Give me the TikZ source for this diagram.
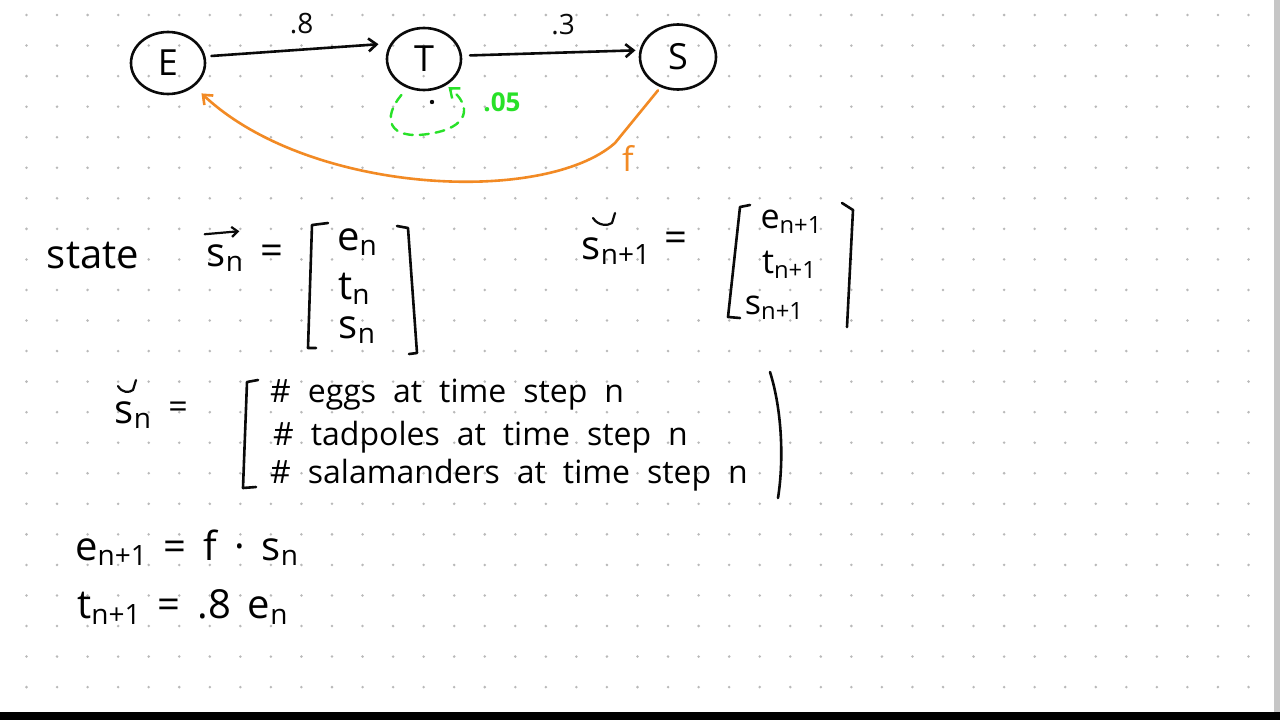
\documentclass[tikz,border=0pt]{standalone}
\usepackage{fontspec}
\setmainfont{Open Sans}
\usepackage{graphicx}
\usetikzlibrary{arrows.meta, shapes.geometric, calc}
\definecolor{pen}{RGB}{10,10,10}
\definecolor{penorange}{RGB}{242,138,36}
\definecolor{pengreen}{RGB}{40,225,40}
\definecolor{griddot}{RGB}{185,185,185}
\newcommand{\sub}[1]{\raisebox{-0.25ex}{\scalebox{0.7}{#1}}}

\begin{document}
\begin{tikzpicture}[x=1pt, y=-1pt, line cap=round, line join=round,
    stage/.style={draw=pen, ellipse, line width=2.6pt, minimum width=74pt, minimum height=62pt, inner sep=0pt, font=\fontsize{36}{36}\selectfont},
    arrow/.style={-{Straight Barb[length=8pt, width=13pt]}, line width=2.6pt, pen},
    ink/.style={line width=2.6pt, pen},
    big/.style={inner sep=0pt, font=\fontsize{40}{44}\selectfont},
    mid/.style={inner sep=0pt, font=\fontsize{34}{36}\selectfont},
    small/.style={inner sep=0pt, font=\fontsize{28}{30}\selectfont},
    wide/.style={inner sep=0pt, anchor=west, font=\fontsize{32}{34}\selectfont, execute at begin node={\spaceskip=17pt\relax}},
    rule/.style={big, anchor=west, execute at begin node={\spaceskip=17pt\relax}}]
  % paper
  \useasboundingbox (0,0) rectangle (1280,720);
  \fill[white] (0,0) rectangle (1280,720);
  \foreach \i in {0,...,40}
    \foreach \j in {0,...,22}
      \fill[griddot] (26.5+30.55*\i, 15+30.55*\j) circle (1.4);
  \fill[gray!45] (1274,0) rectangle (1280,712);
  \fill[black] (0,712) rectangle (1280,720);

  % life cycle
  \node[stage] (egg) at (168,63) {E};
  \node[stage] (tadpole) at (424,59) {T};
  \node[stage, minimum width=76pt, minimum height=65pt] (salamander) at (678,57) {S};

  \draw[arrow, shorten <=6pt, shorten >=12pt] (egg.10) -- node[small, above=14pt, pos=0.52] (hatch) {.8} (tadpole.155);
  \draw[arrow, shorten <=8pt, shorten >=4pt] (tadpole.5) -- node[small, above=16pt, pos=0.57] (grow) {.3} (salamander.170);

  \coordinate (kink) at (615,143);
  \draw[penorange, line width=2.6pt, -{Straight Barb[length=8pt, width=13pt]}, shorten <=4pt, shorten >=10pt] (salamander.240) -- (kink) .. controls (545,205) and (310,195) .. (egg.-42);
  \node[penorange, inner sep=0pt, font=\fontsize{34}{34}\selectfont] (fert) at (628,158) {f};

  \draw[pengreen, line width=2.4pt, dash pattern=on 9pt off 7pt, -{Straight Barb[length=8pt, width=13pt]}, shorten <=9pt, shorten >=3pt] (tadpole.240) .. controls (382,118) and (388,140) .. (428,134) .. controls (470,128) and (472,106) .. (tadpole.-50);
  \fill[pen] (432,102) circle (2.2);
  \node[pengreen, inner sep=0pt, font=\fontsize{26}{26}\selectfont\bfseries] (survive) at (502,102) {.05};

  % state vector
  \node[big] (statelbl) at (93,256) {state};
  \node[big] (sn) at (225,258) {s\sub{n}};
  \draw[arrow, line width=2.2pt, -{Straight Barb[length=6pt, width=10pt]}] ($(sn.north west)+(-2,-10)$) -- ($(sn.north east)+(-4,-13)$);
  \node[big] (eq1) at (272,255) {=};
  \draw[ink] (328,223) -- (312,225) -- (308,348) -- (316,348);
  \draw[ink] (397,226) -- (408,228) -- (417,353) -- (409,354);
  \node[big] (en) at (357,242) {e\sub{n}};
  \node[big] (tn) at (354,289) {t\sub{n}};
  \node[big] (snow) at (357,330) {s\sub{n}};

  % next state
  \node[big] (snext) at (616,251) {s\sub{n+1}};
  \draw[ink, line width=2.2pt] (593,218) .. controls (598,226) and (608,226) .. (612,223) -- (615,213);
  \node[big] (eq2) at (676,242) {=};
  \draw[ink] (750,205) -- (740,207) -- (728,317) -- (740,318);
  \draw[ink] (842,203) -- (853,210) -- (847,327);
  \node[mid] (enext) at (791,222) {e\sub{n+1}};
  \node[mid] (tnext) at (789,265) {t\sub{n+1}};
  \node[mid] (snextv) at (774,308) {s\sub{n+1}};

  % meaning
  \node[big] (sdef) at (133,415) {s\sub{n}};
  \draw[ink, line width=2.2pt] (118,386) .. controls (122,393) and (129,393) .. (133,390) -- (136,380);
  \node[mid] (eq3) at (178,410) {=};
  \draw[ink] (258,380) -- (247,382) -- (243,488) -- (256,487);
  \draw[ink] (770,372) .. controls (782,410) and (784,460) .. (778,498);
  \node[wide] (eggs) at (270,395) {\# eggs at time step n};
  \node[wide] (tads) at (273,437) {\# tadpoles at time step n};
  \node[wide] (sals) at (270,475) {\# salamanders at time step n};

  % update rules
  \node[rule] (eggeq) at (75,548) {e\sub{n+1} = f · s\sub{n}};
  \node[rule] (tadeq) at (77,607) {t\sub{n+1} = .8 e\sub{n}};
\end{tikzpicture}
\end{document}
